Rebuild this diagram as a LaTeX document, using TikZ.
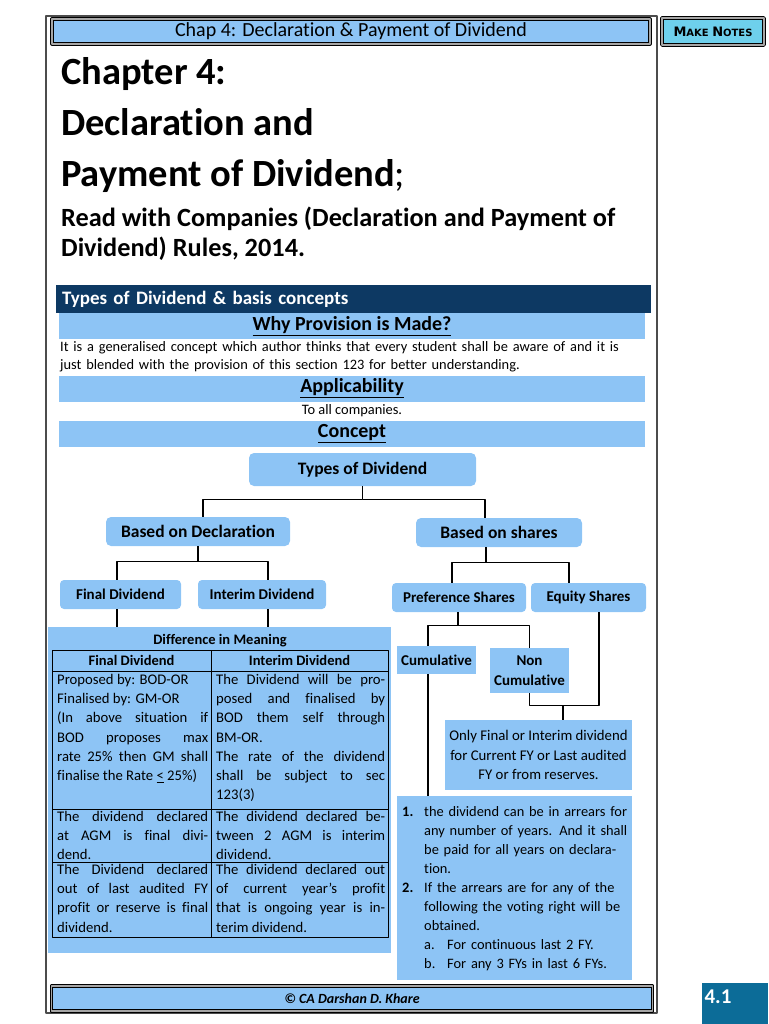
\documentclass[tikz,border=0pt]{standalone}
\usepackage{fontspec}
\setmainfont{Carlito}[Ligatures=NoCommon]
\newfontfamily\notefont{DejaVu Sans}
\usetikzlibrary{positioning}
\definecolor{lblue}{RGB}{141,196,245}
\definecolor{navy}{RGB}{13,57,99}
\definecolor{notecyan}{RGB}{110,208,236}
\definecolor{pageteal}{RGB}{12,108,152}
\newcommand{\fsz}[2]{\fontsize{#1}{#2}\selectfont}
\begin{document}
\begin{tikzpicture}[x=1pt,y=-1pt,line join=round,every node/.style={inner sep=0},
		frame2/.style={draw=black,line width=0.8,double=gray!70,double distance=1.6},
		band/.style={fill=lblue,minimum width=586,minimum height=26,font=\fsz{20}{23}\bfseries},
		tbox/.style={fill=lblue,rounded corners=5,font=\fsz{17.5}{20}\bfseries},
		sbox/.style={fill=lblue,rounded corners=4,font=\fsz{15}{18}\bfseries},
		pbox/.style={fill=lblue,align=center,font=\fsz{15}{19.5}\bfseries},
		cell/.style={anchor=north west,align=justify,font=\fsz{14.7}{19.2}},
		link/.style={draw=black,line width=1.3}]
	\useasboundingbox (0,0) rectangle (768,1024);
	% page frame and top/bottom bars
	\draw[gray!60!black,line width=1.6] (46,16) rectangle (657,1013);
	\node[frame2,fill=lblue,minimum width=598,minimum height=25,font=\fsz{20}{22}] (hdr) at (351,31.5) {Chap 4: Declaration \& Payment of Dividend};
	\node[frame2,line width=1,fill=notecyan,minimum width=102,minimum height=27,font=\notefont\bfseries] (mkn) at (713,31.5) {{\fsz{13}{15}M}{\fsz{10}{12}AKE} {\fsz{13}{15}N}{\fsz{10}{12}OTES}};
	\node[frame2,fill=lblue,minimum width=601,minimum height=25,font=\fsz{14}{16}\bfseries\itshape] (ftr) at (352,998.5) {\textcopyright{} CA Darshan D. Khare};
	\node[fill=pageteal,minimum width=66,minimum height=41,text width=61,align=left,text depth=14,text=white,font=\fsz{21}{23}\bfseries] (pgno) at (735,1003.5) {4.1};
	% titles
	\node[anchor=base west,font=\fsz{38.5}{44}\bfseries] (ttla) at (61,85) {Chapter 4:};
	\node[anchor=base west,font=\fsz{38.5}{44}\bfseries] (ttlb) at (61,136) {Declaration and};
	\node[anchor=base west,font=\fsz{38.5}{44}\bfseries] (ttlc) at (61,187) {Payment of Dividend\mdseries;};
	\node[anchor=base west,font=\fsz{26.3}{30}\bfseries] (suba) at (61,226) {Read with Companies (Declaration and Payment of};
	\node[anchor=base west,font=\fsz{26.3}{30}\bfseries] (subb) at (61,256) {Dividend) Rules, 2014.};
	% section bar and bands
	\node[fill=navy,minimum width=595,minimum height=28,text width=583,align=left,text=white,font=\fsz{19}{22}\bfseries] (sect) at (353.5,299) {Types of Dividend \& basis concepts};
	\node[band] (why) at (352,326) {\underline{Why Provision is Made?}};
	\node[anchor=north west,text width=600,align=left,font=\fsz{14.4}{18}] (whytxt) at (60,341) {It is a generalised concept which author thinks that every student shall be aware of and it is\\just blended with the provision of this section 123 for better understanding.};
	\node[band] (appl) at (352,388.5) {\underline{Applicability}};
	\node[font=\fsz{14.4}{18}] (appltxt) at (352,411) {To all companies.};
	\node[band] (conc) at (352,433.5) {\underline{Concept}};
	% tree
	\node[tbox,minimum width=227,minimum height=33] (tod) at (362.5,469.5) {Types of Dividend};
	\node[tbox,minimum width=184,minimum height=29] (bod) at (198,531.5) {Based on Declaration};
	\node[tbox,minimum width=166,minimum height=29] (bos) at (499,532.5) {Based on shares};
	\node[sbox,minimum width=121,minimum height=29] (fin) at (120.5,594.5) {Final Dividend};
	\node[sbox,minimum width=128,minimum height=29] (intr) at (262,594.5) {Interim Dividend};
	\node[sbox,minimum width=134,minimum height=29] (pref) at (459,597.5) {Preference Shares};
	\node[sbox,minimum width=115,minimum height=29] (eqty) at (588.5,597.5) {Equity Shares};
	\node[pbox,minimum width=79,minimum height=28] (cum) at (436.5,660) {Cumulative};
	\node[pbox,minimum width=79,minimum height=45] (ncum) at (529.5,670.5) {Non\\Cumulative};
	\node[pbox,minimum width=187,minimum height=70,font=\fsz{14.8}{19.5}] (onlyb) at (538.5,755) {Only Final or Interim dividend\\for Current FY or Last audited\\FY or from reserves.};
	\node[fill=lblue,anchor=north west,text width=235,minimum height=184,align=left,font=\fsz{14.4}{19}] (cumlist) at (397,796) {\leftskip=5pt
		{\hangindent=22pt\hangafter=1\noindent\makebox[22pt][l]{\textbf{1.}}the dividend can be in arrears for\newline any number of years. And it shall\newline be paid for all years on  declara-\newline tion.\par}
		{\hangindent=22pt\hangafter=1\noindent\makebox[22pt][l]{\textbf{2.}}If the arrears are for any of the\newline following the voting right will be\newline obtained.\par}
		{\noindent\hspace*{22pt}\makebox[23pt][l]{a.}For continuous last 2 FY.\par}
		{\noindent\hspace*{22pt}\makebox[23pt][l]{b.}For any 3 FYs in last 6 FYs.\par}};
	\draw[link] (tod.south) -- ++(0,13) coordinate (tj) -| ([xshift=5]bod.north);
	\draw[link] (tj) -| ([xshift=-14]bos.north);
	\draw[link] (bod.south) -- ++(0,15) coordinate (dj) -| ([xshift=-3.5]fin.north);
	\draw[link] (dj) -| ([xshift=6]intr.north);
	\draw[link] ([xshift=-13]bos.south) -- ++(0,15) coordinate (sj) -| ([xshift=-7]pref.north);
	\draw[link] (sj) -| ([xshift=-19.5]eqty.north);
	\draw[link] ([xshift=-1]pref.south) -- ++(0,13) coordinate (pj) -| ([xshift=-8.5]cum.north);
	\draw[link] (pj) -| (ncum.north);
	\draw[link] ([xshift=-8.5]cum.south) -- ([xshift=-8.5]cum.south |- cumlist.north);
	\draw[link] (ncum.south) -- ++(0,12) -| ([xshift=10.5]eqty.south);
	\draw[link] ([xshift=24.5]onlyb.north) -- ++(0,-15);
	% difference table
	\node[fill=lblue,minimum width=343,minimum height=326] (diffp) at (219.5,790) {};
	\draw[link] ([xshift=-3.5]fin.south) -- ([xshift=-3.5]fin.south |- diffp.north);
	\draw[link] ([xshift=6]intr.south) -- ([xshift=6]intr.south |- diffp.north);
	\node[font=\fsz{14.5}{17}\bfseries] (diffh) at (220,641) {Difference in Meaning};
	\draw[line width=1] (52,650) rectangle (388,937);
	\foreach \yy in {671,809,862} {\draw[line width=1] (52,\yy) -- (388,\yy);}
	\draw[line width=1] (211,650) -- (211,937);
	\node[font=\fsz{14.5}{17}\bfseries] (hfin) at (131.5,660.5) {Final Dividend};
	\node[font=\fsz{14.5}{17}\bfseries] (hint) at (299.5,660.5) {Interim Dividend};
	\node[cell,text width=151] (ca) at (57,674) {Proposed by: BOD-OR\newline Finalised by: GM-OR\newline (In above situation if\linebreak BOD proposes max\linebreak rate 25\% then GM shall\linebreak finalise the Rate \underline{<} 25\%)};
	\node[cell,text width=169] (cb) at (216,674) {The Dividend will be pro-\linebreak posed and finalised by\linebreak BOD them self through\linebreak BM-OR.\par The rate of the dividend\linebreak shall be subject to sec\linebreak 123(3)};
	\node[cell,text width=151] (cc) at (57,811) {The dividend declared\linebreak at AGM is final divi-\linebreak dend.};
	\node[cell,text width=169] (cd) at (216,811) {The dividend declared be-\linebreak tween 2 AGM is interim\linebreak dividend.};
	\node[cell,text width=151] (ce) at (57,864) {The Dividend declared\linebreak out of last audited FY\linebreak profit or reserve is final\linebreak dividend.};
	\node[cell,text width=169] (cf) at (216,864) {The dividend declared out\linebreak of current year’s profit\linebreak that is ongoing year is in-\linebreak terim dividend.};
\end{tikzpicture}
\end{document}
